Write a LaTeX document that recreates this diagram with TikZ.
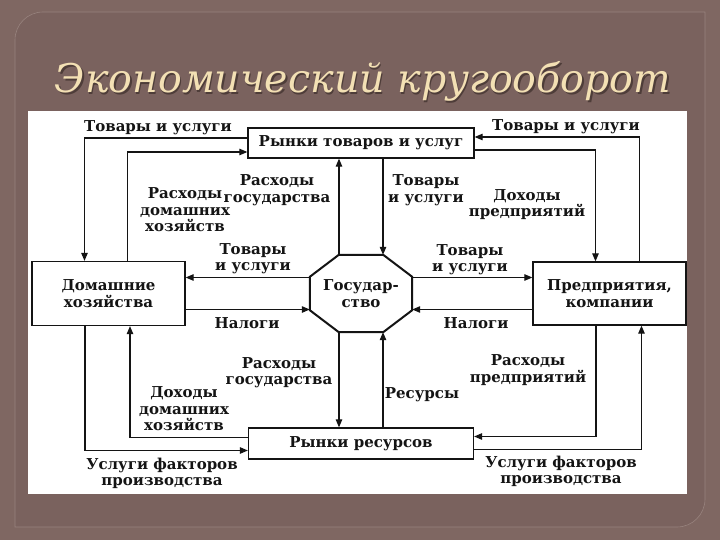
\documentclass[tikz,border=0pt]{standalone}
\usepackage{fontspec}
\newfontfamily\dvserif{DejaVu Serif}
\usetikzlibrary{arrows.meta}
\definecolor{slidebg}{HTML}{7A625E}
\definecolor{slideedge}{HTML}{7F6762}
\definecolor{slideline}{HTML}{98837E}
\definecolor{titlecol}{HTML}{F3E0B4}
\definecolor{titleshade}{HTML}{4E3D39}
\definecolor{ink}{HTML}{141414}

\begin{document}
\begin{tikzpicture}[
  x=1pt, y=-1pt,
  txt/.style={font=\dvserif\bfseries\fontsize{15}{16.5}\selectfont, text=ink},
  box/.style={txt, draw=ink, line width=1.3pt, align=center, inner sep=0pt},
  govbox/.style={txt, align=center, minimum width=102pt, minimum height=77pt, inner sep=0pt},
  govline/.style={draw=ink, line width=2pt, line join=miter},
  lbl/.style={txt, align=center, inner sep=0pt},
  arr/.style={draw=ink, line width=1.1pt, -{Triangle[length=8pt,width=6.5pt]}},
  ttl/.style={font=\dvserif\itshape\fontsize{39.5}{44}\selectfont, inner sep=0pt, anchor=base}
]
\useasboundingbox (0,0) rectangle (720,540);
% slide background
\fill[slideedge] (0,0) rectangle (720,540);
\path[fill=slidebg, draw=slideline, line width=0.6pt] (15,527) [rounded corners=28pt] -- (15,12)
  [sharp corners] -- (705,12) [rounded corners=28pt] -- (705,527) [sharp corners] -- cycle;
\fill[white] (28,111) rectangle (687,494);

% title
\node[ttl, text=titleshade] (ttlshade) at (364.5,94.5) {Экономический кругооборот};
\node[ttl, text=titlecol] (ttl) at (363,93) {Экономический кругооборот};

% markets, sectors, state
\node[box, minimum width=226pt, minimum height=30pt] (goods) at (361,143) {Рынки товаров и услуг};
\node[box, minimum width=225pt, minimum height=31pt] (res) at (361,443.5) {Рынки ресурсов};
\node[box, minimum width=153pt, minimum height=64pt] (hh) at (108.5,293.5) {Домашние\\хозяйства};
\node[box, minimum width=153pt, minimum height=63pt] (firm) at (609.5,293.5) {Предприятия,\\компании};
\node[govbox] (gov) at (361,293.5) {Государ-\\ство};
\draw[govline] ([xshift=29pt]gov.north west) -- ([xshift=-29pt]gov.north east)
  -- ([yshift=-22pt]gov.north east) -- ([yshift=22pt]gov.south east)
  -- ([xshift=-29pt]gov.south east) -- ([xshift=29pt]gov.south west)
  -- ([yshift=22pt]gov.south west) -- ([yshift=-22pt]gov.north west) -- cycle;

% flows round the goods market
\draw[arr] ([yshift=5pt]goods.west) -| ([xshift=-24pt]hh.north);
\draw[arr] ([xshift=19pt]hh.north) |- ([yshift=-9pt]goods.west);
\draw[arr] ([xshift=30pt]firm.north) |- ([yshift=6pt]goods.east);
\draw[arr] ([yshift=-7pt]goods.east) -| ([xshift=-14pt]firm.north);
\draw[arr] ([xshift=-22pt]gov.north) -- ([xshift=-22pt]goods.south);
\draw[arr] ([xshift=22pt]goods.south) -- ([xshift=22pt]gov.north);

% flows through the state
\draw[arr] ([yshift=16pt]gov.west) -- ([yshift=16pt]hh.east);
\draw[arr] ([yshift=-16pt]hh.east) -- ([yshift=-16pt]gov.west);
\draw[arr] ([yshift=16pt]gov.east) -- ([yshift=16pt]firm.west);
\draw[arr] ([yshift=-16pt]firm.west) -- ([yshift=-16pt]gov.east);

% flows round the resource market
\draw[arr] ([xshift=-22pt]gov.south) -- ([xshift=-22pt]res.north);
\draw[arr] ([xshift=22pt]res.north) -- ([xshift=22pt]gov.south);
\draw[arr] ([yshift=6pt]res.west) -| ([xshift=21.5pt]hh.south);
\draw[arr] ([xshift=-23.5pt]hh.south) |- ([yshift=-7pt]res.west);
\draw[arr] ([xshift=-13.5pt]firm.south) |- ([yshift=7pt]res.east);
\draw[arr] ([yshift=-6pt]res.east) -| ([xshift=32pt]firm.south);

% labels
\node[lbl] (l1) at (158,128) {Товары и услуги};
\node[lbl] (l2) at (185,210) {Расходы\\домашних\\хозяйств};
\node[lbl] (l3) at (277,190) {Расходы\\государства};
\node[lbl] (l4) at (253,258.5) {Товары\\и услуги};
\node[lbl] (l5) at (247,323) {Налоги};
\node[lbl] (l6) at (279,372.5) {Расходы\\государства};
\node[lbl] (l7) at (184,409) {Доходы\\домашних\\хозяйств};
\node[lbl] (l8) at (162,473.5) {Услуги факторов\\производства};
\node[lbl] (r1) at (566,127) {Товары и услуги};
\node[lbl] (r2) at (426,190) {Товары\\и услуги};
\node[lbl] (r3) at (527,204.5) {Доходы\\предприятий};
\node[lbl] (r4) at (470,259.5) {Товары\\и услуги};
\node[lbl] (r5) at (476,323) {Налоги};
\node[lbl] (r6) at (528,370) {Расходы\\предприятий};
\node[lbl] (r7) at (422,395) {Ресурсы};
\node[lbl] (r8) at (561,471.5) {Услуги факторов\\производства};
\end{tikzpicture}
\end{document}
